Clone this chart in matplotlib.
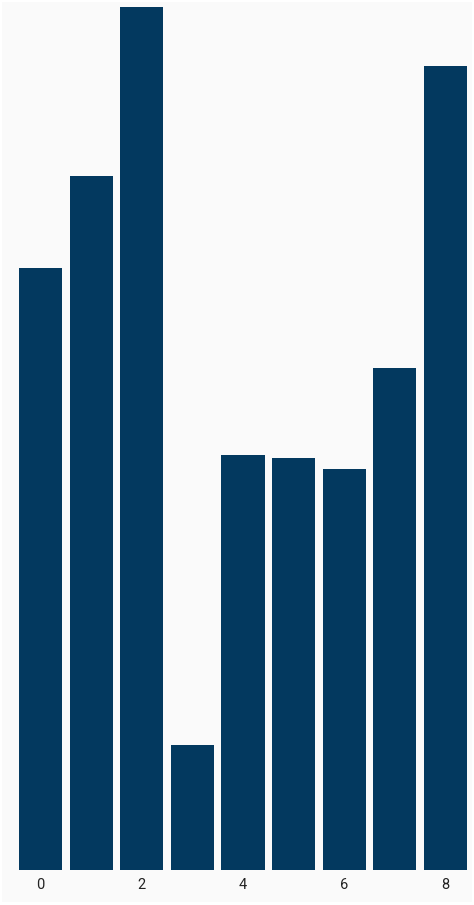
import matplotlib.pyplot as plt
from matplotlib.patches import Rectangle

positions = [0, 1, 2, 3, 4, 5, 6, 7, 8]
values = [60.2, 69.4, 86.3, 12.5, 41.5, 41.2, 40.1, 50.2, 80.4]
tick_positions = [0, 2, 4, 6, 8]
tick_labels = ['0', '2', '4', '6', '8']

W, H = 474, 905
fig = plt.figure(figsize=(W / 100, H / 100), dpi=100)
fig.patch.set_facecolor('white')

# light panel behind the chart
fig.add_artist(Rectangle((2 / W, 3 / H), 470 / W, 900 / H,
                         transform=fig.transFigure, facecolor='#fafafa',
                         edgecolor='none', zorder=-1))

left, right = 15.2, 470.8
top, bottom = 7, 870
ax = fig.add_axes([left / W, 1 - bottom / H, (right - left) / W, (bottom - top) / H])
ax.set_facecolor('none')
ax.set_zorder(1)

ax.bar(positions, values, width=0.85, color='#03395f')
ax.set_xlim(-0.5, 8.5)
ax.set_ylim(0, max(values))

ax.set_xticks(tick_positions)
ax.set_xticklabels(tick_labels, fontfamily='Roboto', fontsize=10.5, color='#222222')
ax.tick_params(axis='x', length=0, pad=6)
ax.set_yticks([])
for s in ax.spines.values():
    s.set_visible(False)

fig.savefig('out.png', dpi=100)
